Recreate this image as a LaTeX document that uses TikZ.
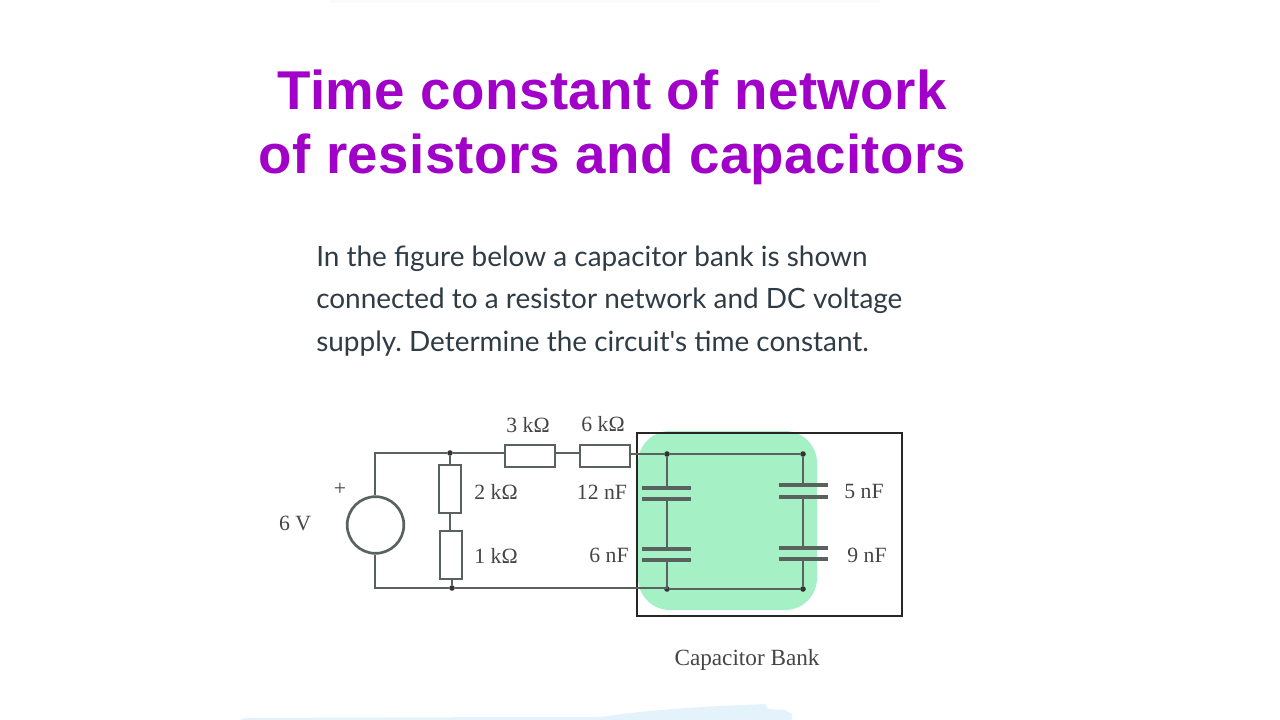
\documentclass[tikz,border=0pt]{standalone}
\usepackage{fontspec}
\setmainfont{Liberation Serif}
\newfontfamily\titlefont[LetterSpace=0.7]{Liberation Sans}
\newfontfamily\bodyfont{Lato}
\usetikzlibrary{calc}
\definecolor{titlepurple}{HTML}{A100C8}
\definecolor{bodyink}{HTML}{2F3B45}
\definecolor{wireink}{HTML}{5A625F}
\definecolor{labelink}{HTML}{454545}
\definecolor{greenfill}{HTML}{A5F0C5}
\definecolor{paleblue}{HTML}{E4F3FB}
\tikzset{
  titleline/.style={font=\titlefont\fontsize{41}{47}\selectfont\bfseries,text=titlepurple,inner sep=0pt,anchor=base},
  bodyline/.style={font=\bodyfont\fontsize{20.95}{24}\selectfont\frenchspacing,text=bodyink,anchor=base west,inner sep=0pt},
  wire/.style={draw=wireink,line width=1.5pt},
  hres/.style={draw=wireink,line width=2.1pt,fill=white,minimum width=37.5pt,minimum height=16.5pt,inner sep=0pt},
  vres/.style={draw=wireink,line width=2.1pt,fill=white,minimum width=16.5pt,minimum height=36pt,inner sep=0pt},
  plate/.style={draw=wireink,line width=2.3pt},
  lab/.style={font=\fontsize{16.3}{19}\selectfont,text=labelink,inner sep=0pt},
  banklab/.style={font=\fontsize{17.4}{20}\selectfont,text=labelink,inner sep=0pt},
  dotnode/.style={circle,fill=black!80,minimum size=4.2pt,inner sep=0pt},
  bank/.style={draw=black!85,line width=1.3pt},
  sourcenode/.style={circle,draw=wireink,line width=2pt,fill=white,minimum size=42.5pt,inner sep=0pt}
}
\begin{document}
\begin{tikzpicture}[x=0.75pt,y=-0.75pt]
\useasboundingbox (0,0) rectangle (1280,720);
\fill[white] (0,0) rectangle (1280,720);
% faint shade at the top edge
\fill[black!1.5] (330,0) rectangle (880,3);
% pale decoration at the bottom edge
\fill[paleblue] (240,720) -- (245,718) -- (520,717) -- (600,717) .. controls (660,708) and (720,706) .. (765,704) -- (768,709) -- (785,710) -- (792,714) -- (792,720) -- cycle;
% title
\node[titleline] (t1) at (612,110) {Time constant of network};
\node[titleline] (t2) at (612.5,174) {of resistors and capacitors};
% body
\node[bodyline] (b1) at (316,266) {In the figure below a capacitor bank is shown};
\node[bodyline] (b2) at (316,308) {connected to a resistor network and DC voltage};
\node[bodyline] (b3) at (316,351) {supply. Determine the circuit's time constant.};
% highlight
\fill[greenfill,rounded corners=24] (638,431) rectangle (817,610);
% bank frame
\node[bank,minimum width=199pt,minimum height=137.25pt,inner sep=0pt] (frame) at (769.5,524.5) {};
% junctions
\node[dotnode] (j1) at (450,453) {};
\node[dotnode] (j2) at (452,588) {};
\node[dotnode] (j3) at (667,454) {};
\node[dotnode] (j4) at (803,454) {};
\node[dotnode] (j5) at (667,589) {};
\node[dotnode] (j6) at (803,589) {};
\coordinate (c1) at (375,453);
\coordinate (c2) at (375,588);
% source
\node[sourcenode] (src) at (375.5,525) {};
\draw[wire] (src.north -| c1) -- (c1) -- (j1);
\draw[wire] (src.south -| c2) -- (c2) -- (j2);
% resistors
\node[hres] (r3) at (530,456) {};
\node[hres] (r6) at (605,456) {};
\node[vres] (r2) at (450,489) {};
\node[vres] (r1) at (451,555) {};
\draw[wire] (j1) -- (j1 -| r3.west);
\draw[wire] (j1 -| r3.east) -- (j1 -| r6.west);
\draw[wire] (j3 -| r6.east) -- (j3);
\draw[wire] (j3) -- (j4);
\draw[wire] (j1) -- (j1 |- r2.north);
\draw[wire] (j1 |- r2.south) -- (j1 |- r1.north);
\draw[wire] (j2 |- r1.south) -- (j2);
\draw[wire] (j2) -- (j2 -| j5) -- (j5);
\draw[wire] (j5) -- (j6);
% capacitors
\coordinate (a1) at (667,488);
\coordinate (a2) at (667,499);
\coordinate (a3) at (667,549);
\coordinate (a4) at (667,560);
\coordinate (b1c) at (803,485);
\coordinate (b2c) at (803,497);
\coordinate (b3c) at (803,548);
\coordinate (b4c) at (803,559);
\draw[wire] (j3) -- (a1);
\draw[wire] (a2) -- (a3);
\draw[wire] (a4) -- (j5);
\draw[wire] (j4) -- (b1c);
\draw[wire] (b2c) -- (b3c);
\draw[wire] (b4c) -- (j6);
\foreach \p in {a1,a2,a3,a4}{\draw[plate] ($(\p)+(-25,0)$) -- ($(\p)+(24,0)$);}
\foreach \p in {b1c,b2c,b3c,b4c}{\draw[plate] ($(\p)+(-24,0)$) -- ($(\p)+(25,0)$);}
% labels
\node[lab] (l6v) at (295,523) {6 V};
\node[lab] (lplus) at (340,489) {+};
\node[lab] (l3k) at (528,425) {3 kΩ};
\node[lab] (l6k) at (603,424) {6 kΩ};
\node[lab] (l2k) at (496,492) {2 kΩ};
\node[lab] (l1k) at (496,556) {1 kΩ};
\node[lab] (l12) at (602,492) {12 nF};
\node[lab] (l6n) at (609,555) {6 nF};
\node[lab] (l5n) at (864,491) {5 nF};
\node[lab] (l9n) at (867,555) {9 nF};
\node[banklab] (lbank) at (747,660) {Capacitor Bank};
\end{tikzpicture}
\end{document}
